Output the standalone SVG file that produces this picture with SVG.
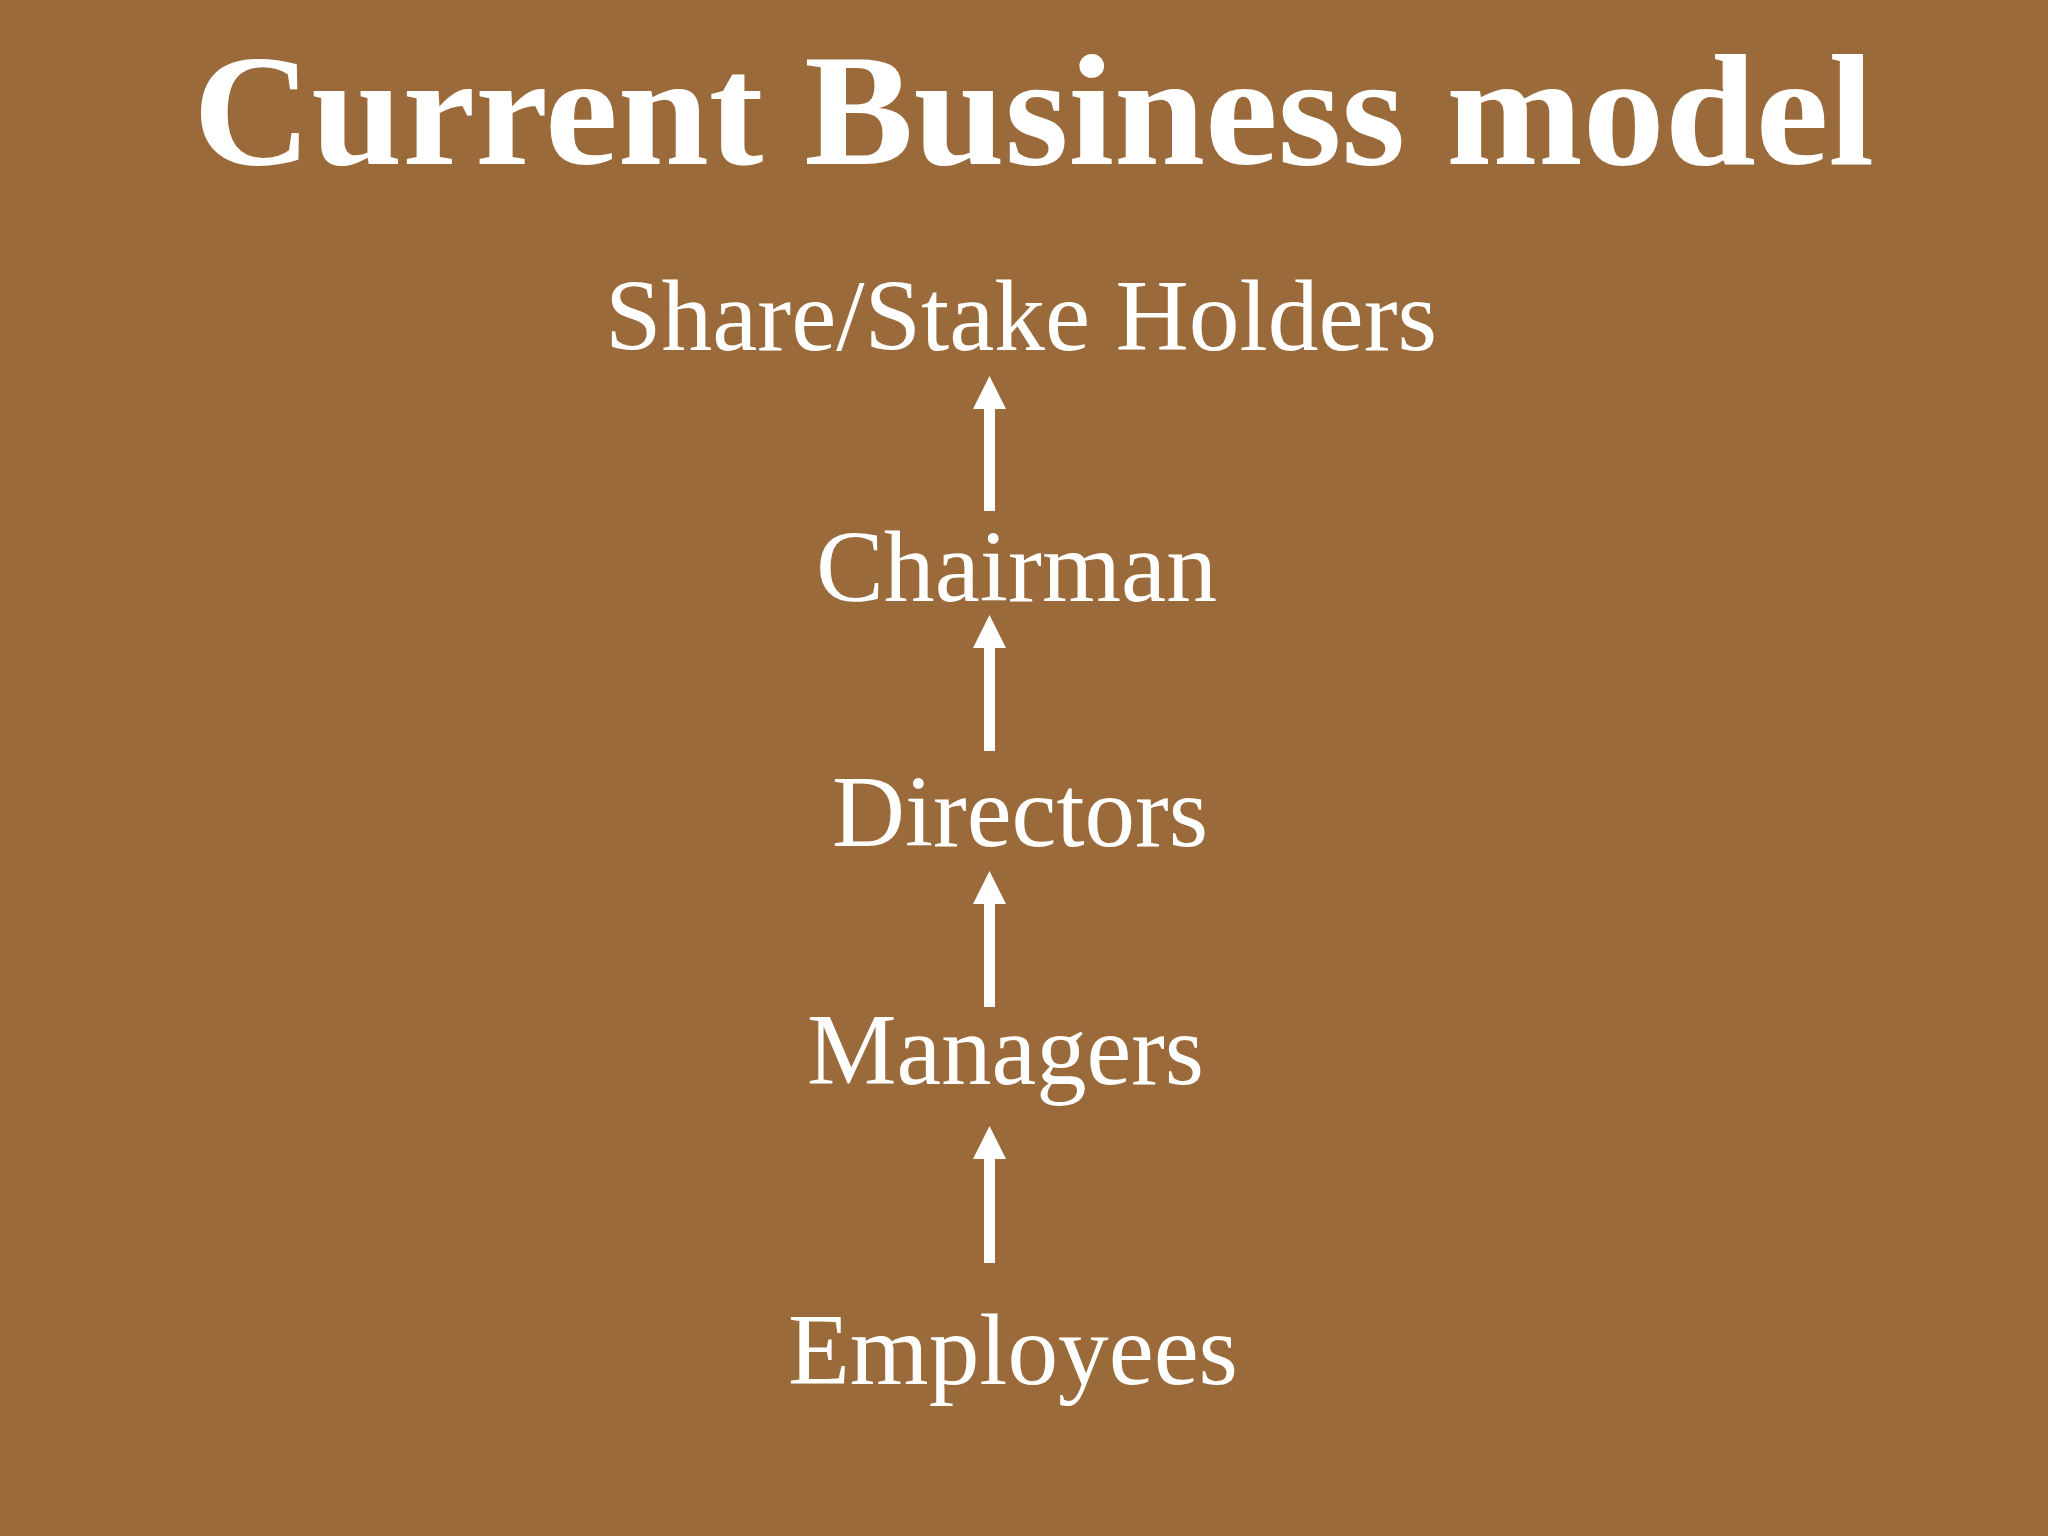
<svg xmlns="http://www.w3.org/2000/svg" width="2048" height="1536" viewBox="0 0 2048 1536">
<defs>
<style>
.title{font-family:"Liberation Serif","DejaVu Serif",serif;font-weight:bold;font-size:158px;fill:#ffffff}
.lbl{font-family:"Liberation Serif","DejaVu Serif",serif;font-size:101px;fill:#ffffff}
.arr{fill:#ffffff;stroke:none}
</style>
</defs>
<rect width="2048" height="1536" fill="#9A6A3B"/>
<text class="title" x="193" y="164" textLength="1681" lengthAdjust="spacingAndGlyphs">Current Business model</text>
<g id="shareholders"><text class="lbl" x="605" y="350" textLength="832" lengthAdjust="spacingAndGlyphs">Share/Stake Holders</text></g>
<g id="chairman"><text class="lbl" x="816" y="601" textLength="401" lengthAdjust="spacingAndGlyphs">Chairman</text></g>
<g id="directors"><text class="lbl" x="832" y="846" textLength="376" lengthAdjust="spacingAndGlyphs">Directors</text></g>
<g id="managers"><text class="lbl" x="807" y="1084" textLength="397" lengthAdjust="spacingAndGlyphs">Managers</text></g>
<g id="employees"><text class="lbl" x="788" y="1384" textLength="450" lengthAdjust="spacingAndGlyphs">Employees</text></g>
<g id="connectors">
<path class="arr" d="M989.5,376 L1006,409 L995,409 L995,511 L984,511 L984,409 L973,409 Z"/>
<path class="arr" d="M989.5,615 L1006,648 L995,648 L995,751 L984,751 L984,648 L973,648 Z"/>
<path class="arr" d="M989.5,871 L1006,904 L995,904 L995,1007 L984,1007 L984,904 L973,904 Z"/>
<path class="arr" d="M989.5,1126 L1006,1159 L995,1159 L995,1263 L984,1263 L984,1159 L973,1159 Z"/>
</g>
</svg>
